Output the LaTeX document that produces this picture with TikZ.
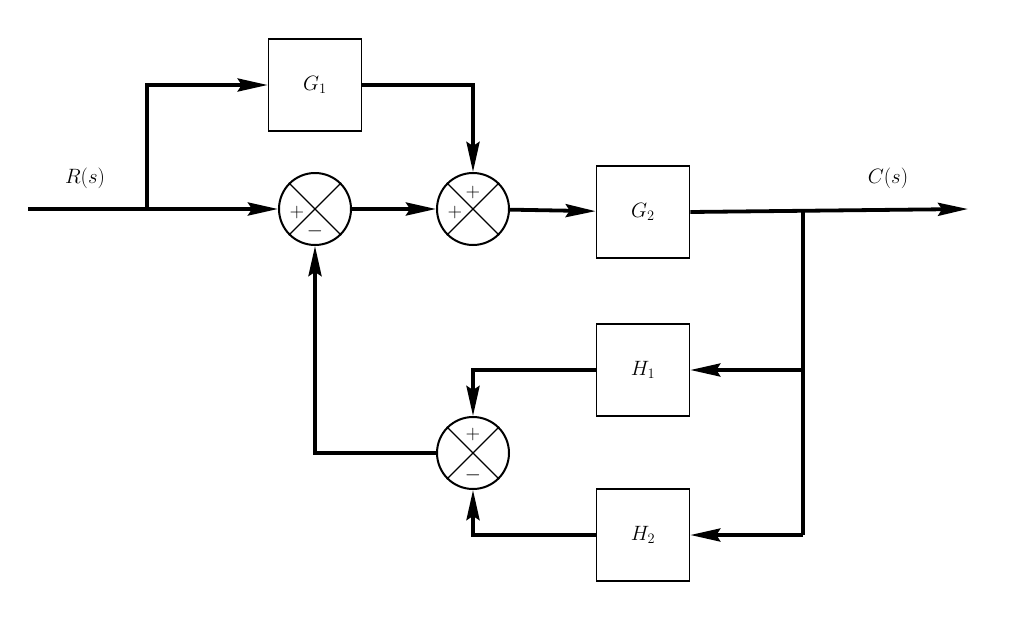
\documentclass[tikz,border=0pt]{standalone}
\usetikzlibrary{arrows.meta}
\newcommand\mysum[2]{\node[sum] (#1) at #2 {};
  \draw[line width=1.2pt] (#1.north west)--(#1.south east) (#1.north east)--(#1.south west);}
\begin{document}
\begin{tikzpicture}[x=1pt,y=-1pt,
  sig/.style={line width=3.8pt,-{Stealth[length=30pt,width=13pt,inset=4pt]}},
  wire/.style={line width=3.8pt},
  blk/.style={draw,line width=1.6pt,minimum width=93pt,minimum height=92pt,inner sep=0pt,font=\fontsize{22}{26}\selectfont},
  sum/.style={draw,circle,line width=2pt,minimum size=72pt,inner sep=0pt,fill=white},
  sg/.style={font=\sffamily\fontsize{20}{22}\selectfont,inner sep=0pt},
  lbl/.style={font=\fontsize{22}{26}\selectfont}]
\useasboundingbox (0,0) rectangle (1024,618);
\node[blk] (g1) at (315,85) {$G_1$};
\node[blk] (g2) at (643,212) {$G_2$};
\node[blk] (h1) at (643,370) {$H_1$};
\node[blk] (h2) at (643,535) {$H_2$};
\mysum{s1}{(315,209)}
\mysum{s2}{(473,209)}
\mysum{s3}{(473,453)}
\coordinate (in) at (28,209);
\coordinate (br) at (147,209);
\coordinate (out) at (968,209);
\coordinate (tap) at (803,209);
\draw[sig] (in) -- (s1);
\draw[sig] (br) |- (g1);
\draw[sig] (g1.east) -| (s2.north);
\draw[sig] (s1) -- (s2);
\draw[sig] (s2) -- (g2);
\draw[sig] (g2.east) -- (out);
\draw[wire] (tap) |- (803,535);
\draw[sig] (803,370) -- (h1.east);
\draw[sig] (803,535) -- (h2.east);
\draw[sig] (h1.west) -| (s3.north);
\draw[sig] (h2.west) -| (s3.south);
\draw[sig] (s3.west) -| (s1.south);
\node[sg] at (297,213) {+};
\node[sg] at (315,231) {$-$};
\node[sg] at (455,213) {+};
\node[sg] at (473,193) {+};
\node[sg] at (473,435) {+};
\node[sg] at (473,475) {$-$};
\node[lbl] at (85,178) {$R(s)$};
\node[lbl] at (888,178) {$C(s)$};
\end{tikzpicture}
\end{document}
